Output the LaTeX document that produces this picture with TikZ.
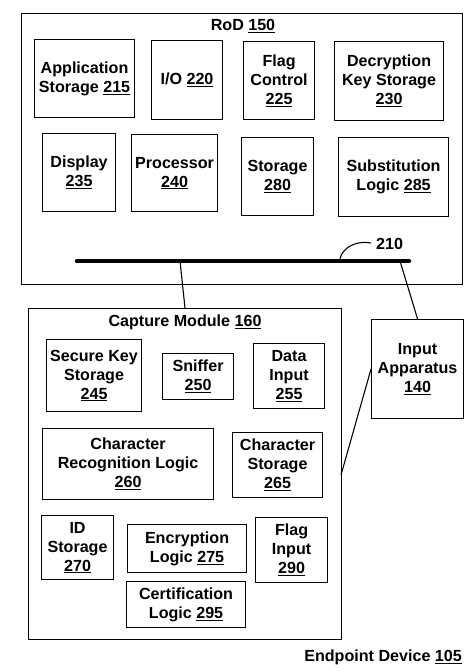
\documentclass[tikz,border=0pt]{standalone}
\usepackage{fontspec}
\setmainfont{Liberation Sans}
\newcommand{\rn}[1]{\underline{#1}}
\begin{document}
\begin{tikzpicture}[x=1pt,y=-1pt,
  box/.style={draw, line width=1.1pt, anchor=north west, inner sep=0pt, align=center,
    font=\fontsize{16.1}{19}\selectfont\bfseries},
  lbl/.style={inner sep=0pt, font=\fontsize{16.1}{19}\selectfont\bfseries},
  conn/.style={line width=1.1pt}]
\useasboundingbox (0,0) rectangle (474,671);
% RoD
\node[box, minimum width=441pt, minimum height=271pt] (rod) at (21,13) {};
\node[lbl] (rodt) at (243,26) {RoD \rn{150}};
\node[box, minimum width=100pt, minimum height=78pt] (as) at (34,39) {Application\\Storage \rn{215}};
\node[box, minimum width=71pt, minimum height=79pt] (io) at (151,40) {I/O \rn{220}};
\node[box, minimum width=71pt, minimum height=78pt] (fc) at (243,41) {Flag\\Control\\\rn{225}};
\node[box, minimum width=109pt, minimum height=79pt] (dk) at (334,41) {Decryption\\Key Storage\\\rn{230}};
\node[box, minimum width=73pt, minimum height=78pt] (dp) at (42,133) {Display\\\rn{235}};
\node[box, minimum width=86pt, minimum height=77pt] (pr) at (131,134) {Processor\\\rn{240}};
\node[box, minimum width=72pt, minimum height=78pt] (st) at (241,137) {Storage\\\rn{280}};
\node[box, minimum width=110pt, minimum height=79pt] (sl) at (338,137) {Substitution\\Logic \rn{285}};
% bus
\coordinate (busL) at (77,261);
\coordinate (busR) at (409,261);
\draw[line width=4.5pt, line cap=round] (busL) -- (busR);
\coordinate (b1) at (180,261);
\coordinate (b2) at (400,261);
\coordinate (lead) at (340,259);
\coordinate (leadend) at (371,243);
\node[lbl, anchor=west] (l210) at (376,244) {210};
\draw[conn] (lead) .. controls (342,248) and (356,240) .. (leadend);
% Capture module
\node[box, minimum width=313pt, minimum height=331pt] (cm) at (28,308) {};
\node[lbl] (cmt) at (185,322) {Capture Module \rn{160}};
\node[box, minimum width=95pt, minimum height=72pt] (sk) at (46,339) {Secure Key\\Storage\\\rn{245}};
\node[box, minimum width=71pt, minimum height=46pt] (sn) at (162,353) {Sniffer\\\rn{250}};
\node[box, minimum width=71pt, minimum height=65pt] (di) at (253,343) {Data\\Input\\\rn{255}};
\node[box, minimum width=171pt, minimum height=71pt] (cr) at (42,428) {Character\\Recognition Logic\\\rn{260}};
\node[box, minimum width=90pt, minimum height=65pt] (cs) at (232,432) {Character\\Storage\\\rn{265}};
\node[box, minimum width=72pt, minimum height=64pt] (ids) at (41,515) {ID\\Storage\\\rn{270}};
\node[box, minimum width=119pt, minimum height=48pt] (el) at (127,524) {Encryption\\Logic \rn{275}};
\node[box, minimum width=72pt, minimum height=65pt] (fi) at (255,517) {Flag\\Input\\\rn{290}};
\node[box, minimum width=119pt, minimum height=46pt] (cl) at (126,581) {Certification\\Logic \rn{295}};
% Input apparatus
\node[box, minimum width=92pt, minimum height=99pt] (ia) at (371,319) {Input\\Apparatus\\\rn{140}};
% connectors
\coordinate (cmtop) at (185,308);
\coordinate (cmright) at (341,475);
\draw[conn] (b1) -- (cmtop);
\draw[conn] (b2) -- (ia.north);
\draw[conn] (ia.west) -- (cmright);
% Endpoint
\node[lbl, anchor=east] (ep) at (462,657) {Endpoint Device \rn{105}};
\end{tikzpicture}
\end{document}
